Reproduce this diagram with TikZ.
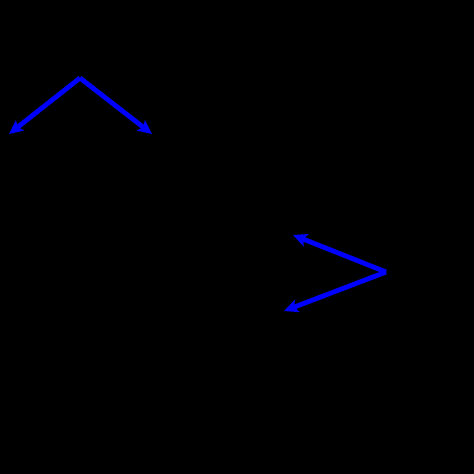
\documentclass[tikz,border=0pt]{standalone}
\usetikzlibrary{arrows.meta}
\begin{document}
\begin{tikzpicture}[x=1pt,y=-1pt,
  vec/.style={draw=blue,line width=4.8pt,line cap=butt,line join=round,-{Stealth[length=14pt,width=13pt,inset=3pt]}}]
\fill[black] (0,0) rectangle (474,474);
\useasboundingbox (0,0) rectangle (474,474);
\coordinate (a) at (80,78);
\coordinate (a1) at (9,134);
\coordinate (a2) at (152,134);
\coordinate (b) at (386,272);
\coordinate (b1) at (293,235);
\coordinate (b2) at (284,311);
\draw[vec] (a) -- (a1);
\draw[vec] (a) -- (a2);
\draw[vec] (b) -- (b1);
\draw[vec] (b) -- (b2);
\end{tikzpicture}
\end{document}
